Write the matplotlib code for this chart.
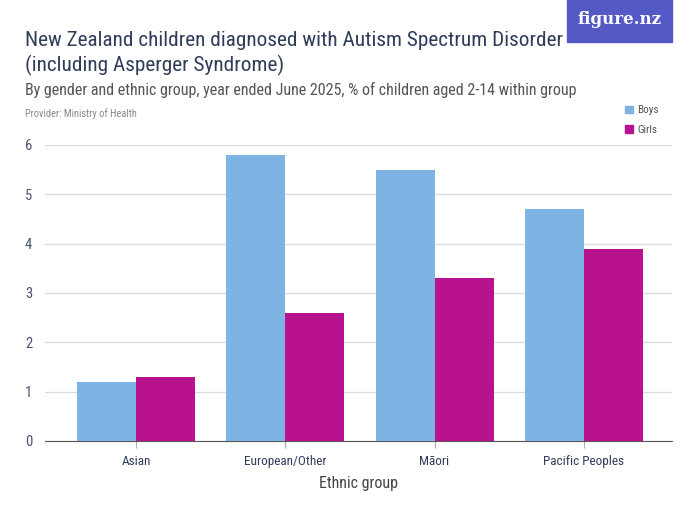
import numpy as np
import matplotlib.pyplot as plt
from matplotlib.patches import Rectangle
from matplotlib import font_manager

groups = ["Asian", "European/Other", "Māori", "Pacific Peoples"]
boys = [1.2, 5.8, 5.5, 4.7]
girls = [1.3, 2.6, 3.3, 3.9]
yticks = [0, 1, 2, 3, 4, 5, 6]

BOYS_COL = "#7eb4e3"
GIRLS_COL = "#b8128f"
NAVY = "#2f3d5a"

# prefer a narrow face if one is around
names = {f.name for f in font_manager.fontManager.ttflist}
FONT = "Roboto"
for cand in ["Roboto Condensed", "Liberation Sans Narrow", "Open Sans Condensed"]:
    if cand in names:
        FONT = cand
        break
narrow = FONT != "Roboto"
k = 1.0 if narrow else 0.88
plt.rcParams["font.family"] = [FONT, "DejaVu Sans"]

fig = plt.figure(figsize=(7, 5.25), dpi=100)
ax = fig.add_axes([0.064, 0.16, 0.896, 0.564])

x = np.arange(len(groups))
w = 0.395
ax.bar(x - w / 2, boys, w, color=BOYS_COL, zorder=3)
ax.bar(x + w / 2, girls, w, color=GIRLS_COL, zorder=3)

ax.set_xlim(-0.61, 3.59)
ax.set_ylim(0, 6)
ax.set_yticks(yticks)
ax.set_yticklabels([str(t) for t in yticks], color="#4a5470", fontsize=10.5)
ax.set_xticks(x)
ax.set_xticklabels(groups, color=NAVY, fontsize=9.5 * k)
ax.tick_params(axis="y", length=0, pad=9)
ax.tick_params(axis="x", length=5, color="#aaaaaa", pad=5)
ax.grid(axis="y", color="#dddddd", linewidth=1, zorder=0)
for s in ["top", "right", "left"]:
    ax.spines[s].set_visible(False)
ax.spines["bottom"].set_color("#555555")
ax.set_xlabel("Ethnic group", fontsize=11.5 * k, color="#444444", labelpad=6)

# header
tsize = 15.3 if narrow else 12.8
fig.text(0.036, 0.913, "New Zealand children diagnosed with Autism Spectrum Disorder",
         fontsize=tsize, color=NAVY)
fig.text(0.036, 0.865, "(including Asperger Syndrome)", fontsize=tsize, color=NAVY)
fig.text(0.036, 0.82, "By gender and ethnic group, year ended June 2025, % of children aged 2-14 within group",
         fontsize=11.5 if narrow else 10.0, color="#555555")
fig.text(0.036, 0.778, "Provider: Ministry of Health", fontsize=7.5, color="#888888")

# logo
fig.patches.append(Rectangle((0.81, 0.92), 0.15, 0.08, transform=fig.transFigure,
                             color="#5459c6", zorder=5))
fig.text(0.885, 0.962, "figure.nz", fontsize=12, color="white", ha="center", va="center",
         family=["DejaVu Serif"], fontweight="bold", zorder=6)

# legend
fig.patches.append(Rectangle((0.893, 0.784), 0.011, 0.015, transform=fig.transFigure, color=BOYS_COL))
fig.text(0.91, 0.791, "Boys", fontsize=8 * k, color="#555555", va="center")
fig.patches.append(Rectangle((0.893, 0.746), 0.011, 0.015, transform=fig.transFigure, color=GIRLS_COL))
fig.text(0.91, 0.753, "Girls", fontsize=8 * k, color="#555555", va="center")

fig.savefig("out.png", dpi=100)
